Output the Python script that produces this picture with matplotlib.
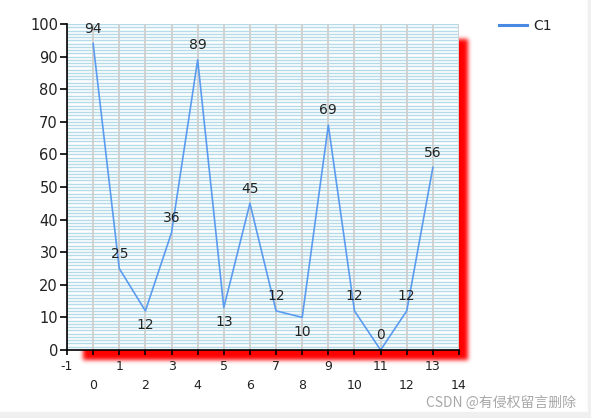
import numpy as np
import matplotlib
matplotlib.use('Agg')
import matplotlib.pyplot as plt
from matplotlib.ticker import MultipleLocator
from matplotlib.patches import Rectangle

# data
x_vals = list(range(14))
y_vals = [94, 25, 12, 36, 89, 13, 45, 12, 10, 69, 12, 0, 12, 56]
label_side = ['up', 'up', 'down', 'up', 'up', 'down', 'up', 'up', 'down',
              'up', 'up', 'up', 'up', 'up']
x_ticks = list(range(-1, 15))
y_ticks = list(range(0, 101, 10))
series_name = 'C1'

line_color = '#5b9bef'
text_color = '#222222'

W, H = 591, 418
fig = plt.figure(figsize=(W / 100, H / 100), dpi=100)
fig.patch.set_facecolor('white')

# blurred red drop shadow behind the plot area
mask = np.zeros((H, W))
mask[39:360, 83:468] = 1.0
k = np.arange(-8, 9)
kern = np.exp(-k**2 / (2 * 2.2**2))
kern /= kern.sum()
mask = np.apply_along_axis(lambda r: np.convolve(r, kern, mode='same'), 1, mask)
mask = np.apply_along_axis(lambda c: np.convolve(c, kern, mode='same'), 0, mask)
rgba = np.zeros((H, W, 4))
rgba[..., 0] = 1.0
rgba[..., 3] = mask
bg = fig.add_axes([0, 0, 1, 1], zorder=0)
bg.imshow(rgba, extent=(0, W, H, 0), interpolation='nearest')
bg.set_xlim(0, W)
bg.set_ylim(H, 0)
bg.axis('off')

# screenshot border strips
fig.patches.append(Rectangle((0, 0), 1, 6 / H, transform=fig.transFigure,
                             color='#f0f0f0', zorder=1))
fig.patches.append(Rectangle((588 / W, 0), 3 / W, 1, transform=fig.transFigure,
                             color='#f0f0f0', zorder=1))

ax = fig.add_axes([67 / W, 1 - 350 / H, 392 / W, 326 / H], zorder=2)
ax.set_facecolor('white')
ax.plot(x_vals, y_vals, color=line_color, lw=1.2, label=series_name, zorder=3)

for xv, yv, side in zip(x_vals, y_vals, label_side):
    dy = 10.5 if side == 'up' else -10.5
    ax.annotate(str(yv), (xv, yv), xytext=(0, dy), textcoords='offset points',
                ha='center', va='center', fontsize=10, color=text_color,
                annotation_clip=False, zorder=4)

ax.set_xlim(-1, 14)
ax.set_ylim(0, 100)
ax.set_yticks(y_ticks)
ax.yaxis.set_minor_locator(MultipleLocator(1))
ax.set_xticks(x_ticks)
ax.set_xticklabels([str(v) if v % 2 else '\n' + str(v) for v in x_ticks])
for lbl in ax.get_xticklabels():
    lbl.set_linespacing(1.6)

ax.grid(which='both', axis='y', color='#b3dbe8', lw=1.0)
ax.grid(which='major', axis='x', color='#d0d0d0', lw=1.4)
ax.set_axisbelow(True)
# gray verticals sit on top of the blue horizontals
ax.yaxis.set_zorder(0.5)
ax.xaxis.set_zorder(0.6)

for s in ['top', 'right']:
    ax.spines[s].set_visible(False)
for s in ['left', 'bottom']:
    ax.spines[s].set_color('black')
    ax.spines[s].set_linewidth(1.2)
    ax.spines[s].set_zorder(3.5)

ax.tick_params(axis='y', which='major', length=5, width=1.2, pad=1.5,
               labelsize=10.5, labelcolor=text_color)
ax.tick_params(axis='y', which='minor', length=0)
ax.tick_params(axis='x', which='major', length=3.5, width=1.2, pad=4,
               labelsize=9, labelcolor=text_color)

leg = ax.legend(loc='upper left', bbox_to_anchor=(499 / W, 1 - 19 / H),
                bbox_transform=fig.transFigure, frameon=False, fontsize=10,
                handlelength=2.0, borderpad=0, borderaxespad=0, handletextpad=0.5)
for h in leg.get_lines():
    h.set_linewidth(2.2)
    h.set_color('#4a8ae5')
for t in leg.get_texts():
    t.set_color(text_color)

fig.text(576 / W, 1 - 403 / H, 'CSDN @有侵权留言删除', ha='right', va='center',
         color='#a8a8a8', fontsize=10,
         family=['Noto Sans CJK SC', 'DejaVu Sans'], zorder=3)

fig.savefig('out.png', dpi=100)
